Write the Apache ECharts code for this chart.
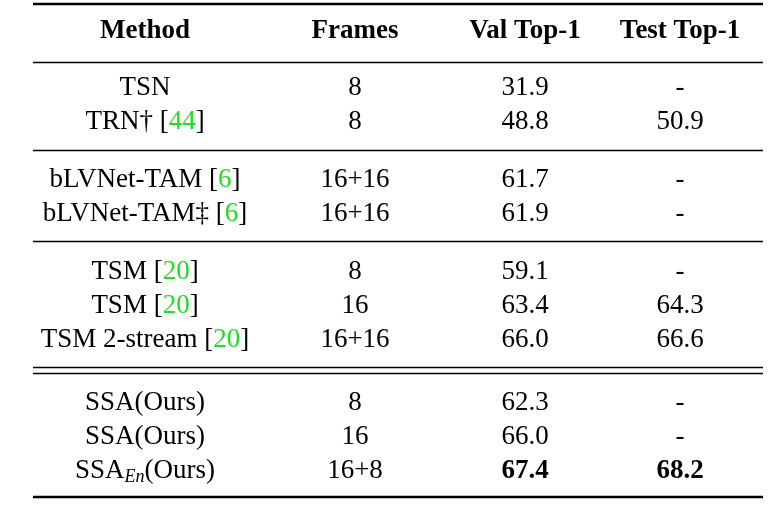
<!DOCTYPE html>
<html>
<head>
<meta charset="UTF-8">
<script src="https://cdn.jsdelivr.net/npm/echarts@6/dist/echarts.min.js"></script>
<style>
html,body{margin:0;padding:0;background:#fff;}
#main{width:780px;height:519px;}
</style>
</head>
<body>
<div id="main"></div>
<script>
// 表头
const headers = ['Method', 'Frames', 'Val Top-1', 'Test Top-1'];
// 每行：方法名（rich 文本）、帧数、验证、测试、所属分组
const methods = ['TSN', 'TRN† [{g|44}]', 'bLVNet-TAM [{g|6}]', 'bLVNet-TAM‡ [{g|6}]',
  'TSM [{g|20}]', 'TSM [{g|20}]', 'TSM 2-stream [{g|20}]',
  'SSA(Ours)', 'SSA(Ours)', 'SSA{sub|En}(Ours)'];
const frames = ['8', '8', '16+16', '16+16', '8', '16', '16+16', '8', '16', '16+8'];
const valTop1 = ['31.9', '48.8', '61.7', '61.9', '59.1', '63.4', '66.0', '62.3', '66.0', '67.4'];
const testTop1 = ['-', '50.9', '-', '-', '-', '64.3', '66.6', '-', '-', '68.2'];
const groups = [0, 0, 1, 1, 2, 2, 2, 3, 3, 3];
const boldCells = ['9-2', '9-3'];

const colX = [145, 355, 525, 680];
const FS = 27;
function rowY(i) { return 88 + i * 34 + groups[i] * 24 + (groups[i] === 3 ? 5 : 0); }

const cells = [];
headers.forEach((h, c) => cells.push([colX[c], 31, h, 1]));
methods.forEach((m, i) => {
  const y = rowY(i);
  [m, frames[i], valTop1[i], testTop1[i]].forEach((t, c) => {
    cells.push([colX[c], y, t, boldCells.indexOf(i + '-' + c) >= 0 ? 1 : 0]);
  });
});

const rich = {
  g: {fill: '#22dd22', fontFamily: 'Liberation Serif', fontSize: FS},
  sub: {fontStyle: 'italic', fontSize: 18, fontFamily: 'Liberation Serif', padding: [12, 0, 0, 0]}
};

const L = 33, R = 763;
function hline(y, w) {
  return {type: 'line', shape: {x1: L, y1: y, x2: R, y2: y}, style: {stroke: '#000', lineWidth: w}};
}

const chart = echarts.init(document.getElementById('main'));
chart.setOption({
  animation: false,
  grid: {left: 0, right: 0, top: 0, bottom: 0},
  xAxis: {type: 'value', min: 0, max: 780, show: false},
  yAxis: {type: 'value', min: 0, max: 519, inverse: true, show: false},
  graphic: [hline(4, 2.5), hline(62.5, 1.5), hline(150.5, 1.5), hline(241.5, 1.5),
    hline(367.5, 1.5), hline(373.5, 1.5), hline(497, 2.5)],
  series: [{
    type: 'custom',
    data: cells,
    renderItem: function (params, api) {
      const d = cells[params.dataIndex];
      const p = api.coord([d[0], d[1]]);
      return {
        type: 'text',
        style: {
          x: p[0], y: p[1], text: d[2], rich: rich,
          align: 'center', verticalAlign: 'middle',
          fill: '#000', fontSize: FS, fontFamily: 'Liberation Serif',
          fontWeight: d[3] ? 'bold' : 'normal'
        }
      };
    }
  }]
});
</script>
</body>
</html>
